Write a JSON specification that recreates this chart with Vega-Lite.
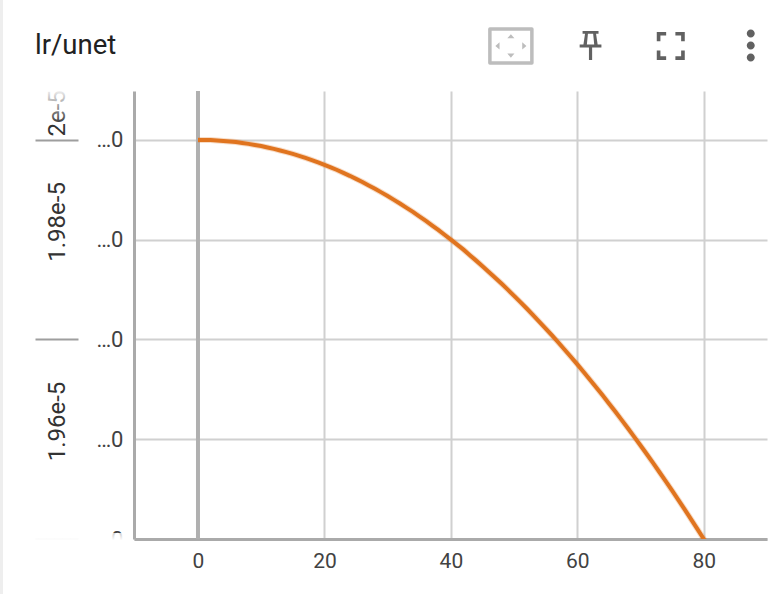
{
"$schema":"https://vega.github.io/schema/vega-lite/v6.json",
"width":633,"height":448,
"autosize":{"type":"none"},
"padding":{"left":134,"top":91,"right":7,"bottom":55},
"background":"white",
"title":{"text":"lr/unet","anchor":"start","frame":"group","dx":-99,"offset":-61,"font":"Roboto","fontSize":27.5,"fontWeight":"normal","color":"#212121"},
"config":{"view":{"stroke":null},"font":"Roboto"},
"datasets":{"one":[{"row":1}],"lr":[
{"step":0,"lr":2e-5},{"step":1,"lr":1.99999e-5},{"step":2,"lr":1.99998e-5},{"step":3,"lr":1.99994e-5},{"step":4,"lr":1.9999e-5},{"step":5,"lr":1.99984e-5},{"step":6,"lr":1.99978e-5},{"step":7,"lr":1.99969e-5},{"step":8,"lr":1.9996e-5},{"step":9,"lr":1.99949e-5},
{"step":10,"lr":1.99938e-5},{"step":11,"lr":1.99924e-5},{"step":12,"lr":1.9991e-5},{"step":13,"lr":1.99894e-5},{"step":14,"lr":1.99878e-5},{"step":15,"lr":1.99859e-5},{"step":16,"lr":1.9984e-5},{"step":17,"lr":1.99819e-5},{"step":18,"lr":1.99798e-5},{"step":19,"lr":1.99774e-5},
{"step":20,"lr":1.9975e-5},{"step":21,"lr":1.99724e-5},{"step":22,"lr":1.99698e-5},{"step":23,"lr":1.99669e-5},{"step":24,"lr":1.9964e-5},{"step":25,"lr":1.99609e-5},{"step":26,"lr":1.99578e-5},{"step":27,"lr":1.99544e-5},{"step":28,"lr":1.9951e-5},{"step":29,"lr":1.99474e-5},
{"step":30,"lr":1.99438e-5},{"step":31,"lr":1.99399e-5},{"step":32,"lr":1.9936e-5},{"step":33,"lr":1.99319e-5},{"step":34,"lr":1.99278e-5},{"step":35,"lr":1.99234e-5},{"step":36,"lr":1.9919e-5},{"step":37,"lr":1.99144e-5},{"step":38,"lr":1.99098e-5},{"step":39,"lr":1.99049e-5},
{"step":40,"lr":1.99e-5},{"step":41,"lr":1.9895e-5},{"step":42,"lr":1.989e-5},{"step":43,"lr":1.98844e-5},{"step":44,"lr":1.9879e-5},{"step":45,"lr":1.98734e-5},{"step":46,"lr":1.98677e-5},{"step":47,"lr":1.98619e-5},{"step":48,"lr":1.9856e-5},{"step":49,"lr":1.98499e-5},
{"step":50,"lr":1.98437e-5},{"step":51,"lr":1.98374e-5},{"step":52,"lr":1.9831e-5},{"step":53,"lr":1.98244e-5},{"step":54,"lr":1.98177e-5},{"step":55,"lr":1.98109e-5},{"step":56,"lr":1.9804e-5},{"step":57,"lr":1.97969e-5},{"step":58,"lr":1.97897e-5},{"step":59,"lr":1.97824e-5},
{"step":60,"lr":1.9775e-5},{"step":61,"lr":1.97674e-5},{"step":62,"lr":1.97597e-5},{"step":63,"lr":1.97519e-5},{"step":64,"lr":1.9744e-5},{"step":65,"lr":1.97359e-5},{"step":66,"lr":1.97277e-5},{"step":67,"lr":1.97194e-5},{"step":68,"lr":1.9711e-5},{"step":69,"lr":1.97024e-5},
{"step":70,"lr":1.96937e-5},{"step":71,"lr":1.96849e-5},{"step":72,"lr":1.9676e-5},{"step":73,"lr":1.96669e-5},{"step":74,"lr":1.96577e-5},{"step":75,"lr":1.96484e-5},{"step":76,"lr":1.9639e-5},{"step":77,"lr":1.96294e-5},{"step":78,"lr":1.96197e-5},{"step":79,"lr":1.96099e-5},
{"step":80,"lr":1.96e-5},{"step":81,"lr":1.95899e-5}
]},
"layer":[
{"data":{"name":"lr"},"mark":{"type":"line","color":"#e0741f","opacity":0,"clip":true},
 "encoding":{
  "x":{"field":"step","type":"quantitative","scale":{"domain":[-10.12,90],"nice":false,"zero":false},
   "axis":{"title":null,"values":[0,20,40,60,80],"grid":true,"gridColor":"#d0d0d0","gridWidth":2,"domainColor":"#aaaaaa","domainWidth":3,"ticks":false,"labelPadding":11,"labelFontSize":21,"labelColor":"#424242","labelFont":"Roboto"}},
  "y":{"field":"lr","type":"quantitative","scale":{"domain":[1.96e-5,2.0049e-5],"nice":false,"zero":false},
   "axis":{"title":null,"values":[2e-5,1.99e-5,1.98e-5,1.97e-5,1.96e-5],"labelExpr":"'…0'","grid":true,"gridColor":"#d0d0d0","gridWidth":2,"domainColor":"#aaaaaa","domainWidth":3,"ticks":false,"labelPadding":11,"labelFontSize":22,"labelColor":"#424242","labelFont":"Roboto","labelOverlap":false,"labelBound":false,"labelFlush":false}}
 }},
{"data":{"name":"lr"},"mark":{"type":"line","opacity":0,"clip":true,"color":"#e0741f"},
 "encoding":{
  "x":{"field":"step","type":"quantitative"},
  "y":{"field":"lr","type":"quantitative",
   "axis":{"title":null,"orient":"left","offset":56,"values":[2e-5,1.98e-5,1.96e-5],"labelExpr":"datum.value>1.99e-5?'2e-5':(datum.value>1.97e-5?'1.98e-5':'1.96e-5')","domain":false,"grid":false,"ticks":true,"tickSize":43,"tickWidth":2,"tickColor":"#9e9e9e","labelAngle":-90,"labelAlign":"center","labelBaseline":"middle","labelPadding":-22,"labelFontSize":24,"labelColor":"#333333","labelFont":"Roboto","labelOverlap":false,"labelBound":false,"labelFlush":false,"labelOffset":{"expr":"datum.value>1.99e-5?-27:-118"}}}
 }},
{"data":{"name":"one"},"mark":{"type":"rule","color":"#b0b0b0","strokeWidth":4},"encoding":{"x":{"datum":0,"type":"quantitative"}}},
{"data":{"name":"lr"},"mark":{"type":"line","color":"#e0741f","strokeWidth":6,"opacity":0.25,"clip":true},
 "encoding":{"x":{"field":"step","type":"quantitative"},"y":{"field":"lr","type":"quantitative","axis":null}}},
{"data":{"name":"lr"},"mark":{"type":"line","color":"#e0741f","strokeWidth":4,"clip":true},
 "encoding":{"x":{"field":"step","type":"quantitative"},"y":{"field":"lr","type":"quantitative","axis":null}}},
{"data":{"name":"one"},"mark":{"type":"rect","clip":false,"color":{"gradient":"linear","x1":0,"y1":0,"x2":0,"y2":1,"stops":[{"offset":0,"color":"rgba(255,255,255,1)"},{"offset":1,"color":"rgba(255,255,255,0)"}]}},
 "encoding":{"x":{"datum":-26.5,"type":"quantitative"},"x2":{"datum":-18.5},"y":{"datum":2.00521e-5,"type":"quantitative","axis":null},"y2":{"datum":2.0015e-5}}},
{"data":{"name":"one"},"mark":{"type":"rect","clip":false,"color":{"gradient":"linear","x1":0,"y1":0,"x2":0,"y2":1,"stops":[{"offset":0,"color":"rgba(255,255,255,0.75)"},{"offset":0.35,"color":"rgba(255,255,255,1)"},{"offset":1,"color":"rgba(255,255,255,1)"}]}},
 "encoding":{"x":{"datum":-26.6,"type":"quantitative"},"x2":{"datum":-10.4},"y":{"datum":1.9606e-5,"type":"quantitative","axis":null},"y2":{"datum":1.9585e-5}}},
{"data":{"name":"one"},"mark":{"type":"rule","color":"#eeeeee","strokeWidth":3,"clip":false},"encoding":{"x":{"datum":-31.07,"type":"quantitative"},"y":{"datum":2.01404e-5,"type":"quantitative","axis":null},"y2":{"datum":1.95449e-5}}},
{"data":{"name":"one"},"mark":{"type":"point","filled":true,"opacity":1,"color":"#616161","size":784,"clip":false,"shape":"M-.286,-.857a.286,.286 0 1,0 .572,0a.286,.286 0 1,0 -.572,0ZM-.286,0a.286,.286 0 1,0 .572,0a.286,.286 0 1,0 -.572,0ZM-.286,.857a.286,.286 0 1,0 .572,0a.286,.286 0 1,0 -.572,0Z"},
 "encoding":{"x":{"datum":87.43,"type":"quantitative"},"y":{"datum":2.00945e-5,"type":"quantitative","axis":null}}},
{"data":{"name":"one"},"mark":{"type":"point","filled":true,"opacity":1,"color":"#616161","size":784,"clip":false,"shape":"M-1,-1H-.33V-.74H-.74V-.33H-1ZM1,-1V-.33H.74V-.74H.33V-1ZM-1,1V.33H-.74V.74H-.33V1ZM1,1H.33V.74H.74V.33H1Z"},
 "encoding":{"x":{"datum":74.78,"type":"quantitative"},"y":{"datum":2.00942e-5,"type":"quantitative","axis":null}}},
{"data":{"name":"one"},"mark":{"type":"point","filled":true,"opacity":1,"color":"#616161","size":841,"clip":false,"shape":"M-.55,-1H.55V-.8H-.55ZM-.38,-.8H-.18L-.26,.0H-.5ZM.18,-.8H.38L.5,.0H.26ZM-.75,-.07H.75V.15H-.75ZM-.11,.15H.11V1H-.11Z"},
 "encoding":{"x":{"datum":62.09,"type":"quantitative"},"y":{"datum":2.00947e-5,"type":"quantitative","axis":null}}},
{"data":{"name":"one"},"mark":{"type":"point","filled":false,"opacity":1,"stroke":"#bdbdbd","strokeWidth":3.5,"strokeJoin":"round","size":1764,"clip":false,"shape":"M-1,-.81H1V.81H-1Z"},
 "encoding":{"x":{"datum":49.49,"type":"quantitative"},"y":{"datum":2.00942e-5,"type":"quantitative","axis":null}}},
{"data":{"name":"one"},"mark":{"type":"point","filled":true,"opacity":1,"color":"#bdbdbd","size":1764,"clip":false,"shape":"M0,-.56L.17,-.36H-.17ZM0,.56L.17,.36H-.17ZM-.74,0L-.54,-.17V.17ZM.74,0L.54,-.17V.17Z"},
 "encoding":{"x":{"datum":49.49,"type":"quantitative"},"y":{"datum":2.00942e-5,"type":"quantitative","axis":null}}}
],
"resolve":{"axis":{"y":"independent"}}
}
